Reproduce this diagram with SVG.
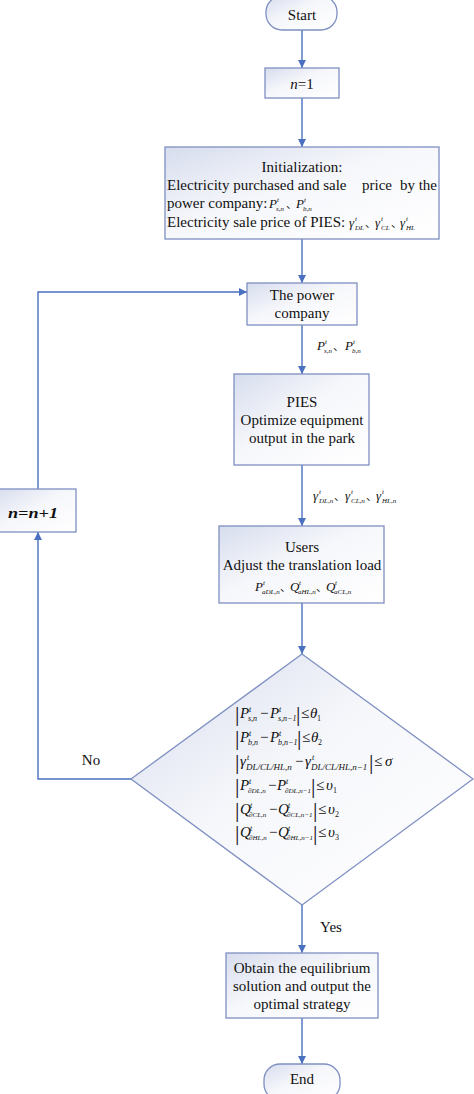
<svg xmlns="http://www.w3.org/2000/svg" width="474" height="1094" viewBox="0 0 474 1094">
<defs>
<linearGradient id="g" x1="0" y1="0" x2="1" y2="1">
<stop offset="0" stop-color="#d7ddee"/>
<stop offset="0.45" stop-color="#f6f7fb"/>
<stop offset="1" stop-color="#ffffff"/>
</linearGradient>
<marker id="arr" viewBox="0 0 10 10" refX="10" refY="5" markerUnits="userSpaceOnUse" markerWidth="8" markerHeight="8" orient="auto">
<path d="M0,0 L10,5 L0,10 z" fill="#4a70c0"/>
</marker>
<style>
.box{fill:url(#g);stroke:#7f90c2;stroke-width:1.3}
.conn{fill:none;stroke:#4a70c0;stroke-width:1.4}
.t{font-family:"Liberation Serif","Noto Sans CJK SC",serif;font-size:15px;fill:#111;text-anchor:middle}
.s{font-family:"Liberation Serif","Noto Sans CJK SC",serif;font-size:15px;fill:#111}
.i{font-style:italic}
.n{font-style:normal}
.sb{font-size:7px}
.sb8{font-size:8px}
.sb9{font-size:9px}
.lb{font-size:13px}
.bar{font-size:22px;font-style:normal}
.cm{font-size:11px;font-style:normal}
</style>
</defs>

<g id="connectors">
<path class="conn" d="M302,30 V68" marker-end="url(#arr)"/>
<path class="conn" d="M302,98 V147" marker-end="url(#arr)"/>
<path class="conn" d="M302,239 V283" marker-end="url(#arr)"/>
<path class="conn" d="M302,325 V374" marker-end="url(#arr)"/>
<path class="conn" d="M302,465 V526" marker-end="url(#arr)"/>
<path class="conn" d="M302,603 V654" marker-end="url(#arr)"/>
<path class="conn" d="M302,905 V953" marker-end="url(#arr)"/>
<path class="conn" d="M302,1018 V1064" marker-end="url(#arr)"/>
<path class="conn" d="M131,779 H38 V532" marker-end="url(#arr)"/>
<path class="conn" d="M38,489 V292 H247" marker-end="url(#arr)"/>
<text class="t" x="91" y="765">No</text>
<text class="t" x="331" y="932">Yes</text>
<text class="s i lb" x="317" y="350">P<tspan class="sb" x="325" y="344">t</tspan><tspan class="sb" x="324" y="353">s,n</tspan><tspan class="cm" x="333" y="350">、</tspan><tspan x="345" y="350">P</tspan><tspan class="sb" x="353" y="344">t</tspan><tspan class="sb" x="352" y="353">b,n</tspan></text>
<text class="s i lb" x="313" y="500">γ<tspan class="sb" x="319" y="494">t</tspan><tspan class="sb" x="319" y="503">DL,n</tspan><tspan class="cm" x="334" y="500">、</tspan><tspan x="345" y="500">γ</tspan><tspan class="sb" x="351" y="494">t</tspan><tspan class="sb" x="351" y="503">CL,n</tspan><tspan class="cm" x="366" y="500">、</tspan><tspan x="376" y="500">γ</tspan><tspan class="sb" x="382" y="494">t</tspan><tspan class="sb" x="382" y="503">HL,n</tspan></text>
</g>

<g id="start">
<rect class="box" x="266" y="-4" width="71" height="34" rx="16"/>
<text class="t" x="302" y="20">Start</text>
</g>

<g id="n1">
<rect class="box" x="265" y="68" width="74" height="30"/>
<text class="t" x="302" y="89"><tspan class="i">n</tspan>=1</text>
</g>

<g id="init">
<rect class="box" x="165" y="147" width="274" height="92"/>
<text class="t" x="302" y="172">Initialization:</text>
<text class="s" x="167" y="190">Electricity purchased and sale</text>
<text class="s" x="362" y="190">price</text>
<text class="s" x="437" y="190" text-anchor="end">by the</text>
<text class="s" x="167" y="208">power company:</text>
<text class="s i lb" x="269" y="208">P<tspan class="sb" x="277" y="202">t</tspan><tspan class="sb" x="276" y="211">s,n</tspan><tspan class="cm" x="286" y="208">、</tspan><tspan x="296" y="208">P</tspan><tspan class="sb" x="304" y="202">t</tspan><tspan class="sb" x="303" y="211">b,n</tspan></text>
<text class="s" x="167" y="227">Electricity sale price of PIES:</text>
<text class="s i lb" x="349" y="227">γ<tspan class="sb" x="355" y="221">t</tspan><tspan class="sb" x="355" y="230">DL</tspan><tspan class="cm" x="365" y="227">、</tspan><tspan x="375" y="227">γ</tspan><tspan class="sb" x="381" y="221">t</tspan><tspan class="sb" x="381" y="230">CL</tspan><tspan class="cm" x="391" y="227">、</tspan><tspan x="400" y="227">γ</tspan><tspan class="sb" x="406" y="221">t</tspan><tspan class="sb" x="406" y="230">HL</tspan></text>
</g>

<g id="power">
<rect class="box" x="247" y="283" width="110" height="42"/>
<text class="t" x="302" y="300">The power</text>
<text class="t" x="302" y="318">company</text>
</g>

<g id="pies">
<rect class="box" x="234" y="374" width="135" height="91"/>
<text class="t" x="302" y="407">PIES</text>
<text class="t" x="302" y="425">Optimize equipment</text>
<text class="t" x="302" y="443">output in the park</text>
</g>

<g id="users">
<rect class="box" x="219" y="526" width="165" height="77"/>
<text class="t" x="302" y="552">Users</text>
<text class="t" x="302" y="570">Adjust the translation load</text>
<text class="s i lb" x="255" y="591">P<tspan class="sb" x="263" y="585">t</tspan><tspan class="sb" x="262" y="594">aDL,n</tspan><tspan class="cm" x="280" y="591">、</tspan><tspan x="290" y="591">Q</tspan><tspan class="sb" x="299" y="585">t</tspan><tspan class="sb" x="298" y="594">aHL,n</tspan><tspan class="cm" x="316" y="591">、</tspan><tspan x="326" y="591">Q</tspan><tspan class="sb" x="335" y="585">t</tspan><tspan class="sb" x="334" y="594">aCL,n</tspan></text>
</g>

<g id="nn1">
<rect class="box" x="-2" y="489" width="78" height="43"/>
<text class="s i" x="8" y="518" font-size="18" font-weight="bold" textLength="50" lengthAdjust="spacingAndGlyphs">n=n+1</text>
</g>

<g id="decision">
<polygon class="box" points="302,654 473,779 302,905 131,779"/>
<text class="s i">
<tspan class="bar" x="235" y="721">|</tspan><tspan x="240" y="718">P</tspan><tspan class="sb8" x="249" y="712">t</tspan><tspan class="sb8" x="248" y="721">s,n</tspan><tspan class="n" x="260" y="718">−</tspan><tspan x="270" y="718">P</tspan><tspan class="sb8" x="279" y="712">t</tspan><tspan class="sb8" x="278" y="721">s,n−1</tspan><tspan class="bar" x="296" y="721">|</tspan><tspan class="n" x="301" y="718">≤</tspan><tspan x="310" y="718">θ</tspan><tspan class="sb8 n" x="317" y="721">1</tspan>
</text>
<text class="s i">
<tspan class="bar" x="235" y="745">|</tspan><tspan x="240" y="742">P</tspan><tspan class="sb8" x="249" y="736">t</tspan><tspan class="sb8" x="248" y="745">b,n</tspan><tspan class="n" x="260" y="742">−</tspan><tspan x="270" y="742">P</tspan><tspan class="sb8" x="279" y="736">t</tspan><tspan class="sb8" x="278" y="745">b,n−1</tspan><tspan class="bar" x="297" y="745">|</tspan><tspan class="n" x="302" y="742">≤</tspan><tspan x="311" y="742">θ</tspan><tspan class="sb8 n" x="318" y="745">2</tspan>
</text>
<text class="s i">
<tspan class="bar" x="235" y="769">|</tspan><tspan x="240" y="766">γ</tspan><tspan class="sb8" x="247" y="760">t</tspan><tspan class="sb9" x="246" y="770">DL/CL/HL,n</tspan><tspan class="n" x="295" y="766">−</tspan><tspan x="305" y="766">γ</tspan><tspan class="sb8" x="312" y="760">t</tspan><tspan class="sb9" x="311" y="770">DL/CL/HL,n−1</tspan><tspan class="bar" x="369" y="769">|</tspan><tspan class="n" x="374" y="766">≤</tspan><tspan x="385" y="766">σ</tspan>
</text>
<text class="s i">
<tspan class="bar" x="235" y="793">|</tspan><tspan x="240" y="790">P</tspan><tspan class="sb8" x="249" y="784">t</tspan><tspan class="sb" x="248" y="793">∂DL,n</tspan><tspan class="n" x="268" y="790">−</tspan><tspan x="277" y="790">P</tspan><tspan class="sb8" x="286" y="784">t</tspan><tspan class="sb" x="285" y="793">∂DL,n−1</tspan><tspan class="bar" x="311" y="793">|</tspan><tspan class="n" x="316" y="790">≤</tspan><tspan x="326" y="790">υ</tspan><tspan class="sb8 n" x="333" y="793">1</tspan>
</text>
<text class="s i">
<tspan class="bar" x="235" y="817">|</tspan><tspan x="240" y="814">Q</tspan><tspan class="sb8" x="250" y="808">t</tspan><tspan class="sb" x="249" y="817">∂CL,n</tspan><tspan class="n" x="269" y="814">−</tspan><tspan x="278" y="814">Q</tspan><tspan class="sb8" x="288" y="808">t</tspan><tspan class="sb" x="287" y="817">∂CL,n−1</tspan><tspan class="bar" x="313" y="817">|</tspan><tspan class="n" x="318" y="814">≤</tspan><tspan x="328" y="814">υ</tspan><tspan class="sb8 n" x="335" y="817">2</tspan>
</text>
<text class="s i">
<tspan class="bar" x="235" y="840">|</tspan><tspan x="240" y="837">Q</tspan><tspan class="sb8" x="250" y="831">t</tspan><tspan class="sb" x="249" y="840">∂HL,n</tspan><tspan class="n" x="269" y="837">−</tspan><tspan x="278" y="837">Q</tspan><tspan class="sb8" x="288" y="831">t</tspan><tspan class="sb" x="287" y="840">∂HL,n−1</tspan><tspan class="bar" x="313" y="840">|</tspan><tspan class="n" x="318" y="837">≤</tspan><tspan x="328" y="837">υ</tspan><tspan class="sb8 n" x="335" y="840">3</tspan>
</text>
</g>

<g id="obtain">
<rect class="box" x="226" y="953" width="152" height="65"/>
<text class="t" x="302" y="973">Obtain the equilibrium</text>
<text class="t" x="302" y="991">solution and output the</text>
<text class="t" x="302" y="1009">optimal strategy</text>
</g>

<g id="end">
<rect class="box" x="264" y="1064" width="76" height="36" rx="16"/>
<text class="t" x="302" y="1084">End</text>
</g>
</svg>
